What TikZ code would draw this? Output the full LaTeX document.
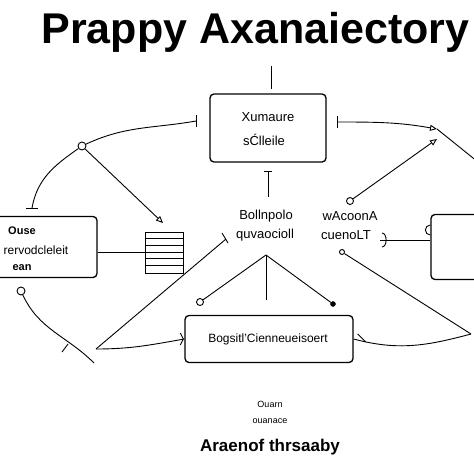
\documentclass[tikz,border=0pt]{standalone}
\usepackage{fontspec}
\setmainfont{Liberation Sans}
\usetikzlibrary{positioning,arrows.meta}
\begin{document}
\begin{tikzpicture}[x=1pt,y=-1pt,
kbox/.style={draw,line width=1.3pt,rounded corners=4pt,inner sep=0pt},
kwire/.style={line width=0.9pt},
kring/.style={draw,circle,line width=0.9pt,inner sep=0pt,minimum size=7pt,fill=white},
kdot/.style={draw,circle,fill,inner sep=0pt,minimum size=5pt},
ktip/.style={-{Triangle[open,length=7pt,width=6pt]}},
klbl/.style={font=\fontsize{13}{14}\selectfont}]
\pgfmathsetmacro{\kstripes}{6}
\useasboundingbox (0,0) rectangle (474,474);
% title
\node[anchor=west,font=\fontsize{43}{45}\selectfont\bfseries] (title) at (38,32) {Prappy Axanaiectory};
% boxes
\node[kbox,minimum width=116pt,minimum height=68pt] (top) at (268,128) {};
\node[klbl] (top1) at (268,117) {Xumaure};
\node[klbl] (top2) at (264,140) {sĆlleile};
\node[kbox,minimum width=104pt,minimum height=61pt] (lft) at (45,247) {};
\node[klbl,font=\fontsize{11}{12}\selectfont\bfseries] (lft1) at (22,231) {Ouse};
\node[klbl,font=\fontsize{12}{13}\selectfont] (lft2) at (36,250) {rervodcleleit};
\node[klbl,font=\fontsize{11}{12}\selectfont\bfseries] (lft3) at (22,268) {ean};
\node[kbox,minimum width=62pt,minimum height=65pt] (rgt) at (462,247) {};
\node[kbox,minimum width=168pt,minimum height=47pt] (bot) at (269,339) {};
\node[klbl,font=\fontsize{12}{13}\selectfont] (bot1) at (268,339) {Bogsitl'Cienneueisoert};
% stripes
\node[draw,line width=1pt,minimum width=38pt,minimum height=41pt,inner sep=0pt] (strp) at (164,252.5) {};
\foreach \k in {1,...,5}{\draw[line width=0.9pt](strp.north west)++(0,\k*41/\kstripes)--++(38,0);}
% middle labels
\node[klbl] (mid1) at (266,216) {Bollnpolo};
\node[klbl] (mid2) at (265,235) {quvaocioll};
\node[klbl] (mid3) at (350,216) {wAcoonA};
\node[klbl] (mid4) at (346,235) {cuenoLT};
% bottom labels
\node[font=\fontsize{9}{10}\selectfont] (cap1) at (270,404) {Ouarn};
\node[font=\fontsize{9}{10}\selectfont] (cap2) at (270,421) {ouanace};
\node[font=\fontsize{17}{18}\selectfont\bfseries] (cap3) at (270,447) {Araenof thrsaaby};
% points
\coordinate (tt) at (271,66);
\coordinate (tb) at (271,89);
\coordinate (tl) at (196,121);
\coordinate (tr) at (337,122);
\coordinate (tu) at (268,171);
\coordinate (td) at (268,197);
\node[kring,minimum size=8pt] (c1) at (82,146) {};
\coordinate (la) at (32,208);
\coordinate (lh) at (163,223);
\coordinate (rh) at (437,129);
\coordinate (rx) at (478,162);
\node[kring] (c2) at (350,201) {};
\coordinate (ro) at (380,240);
\coordinate (apex) at (266,255);
\node[kring] (c3) at (200,302) {};
\coordinate (av) at (266,300);
\node[kdot] (d1) at (333,304) {};
\node[kring,minimum size=5pt] (c4) at (342,252) {};
\coordinate (rl) at (471,334);
\node[kring,minimum size=8pt] (c5) at (21,291) {};
\coordinate (bl) at (94,363);
\coordinate (mv) at (96,349);
\coordinate (mu) at (226,239);
% connectors
\draw[kwire](tt)--(tb);
\draw[kwire](tu)--(td);
\draw[kwire](tl)to[out=190,in=25](c1);
\draw[kwire](c1)to[out=215,in=80](la);
\draw[kwire,ktip](c1)--(lh);
\draw[kwire,ktip](tr)to[out=0,in=170](rh);
\draw[kwire](rh)--(rx);
\draw[kwire,ktip](c2)--(437,139);
\draw[kwire](lft.east|-strp.west)--(strp.west);
\draw[kwire](ro)--(rgt.west|-ro);
\draw[kwire](apex)--(c3);
\draw[kwire](apex)--(av);
\draw[kwire](apex)--(d1);
\draw[kwire](c4)--(rl);
\draw[kwire](rl)to[out=195,in=-15](bot.east);
\draw[kwire](c5)to[out=-65,in=135](bl);
\draw[kwire](mv)--(mu);
\draw[kwire](mv)to[out=0,in=190](bot.west);
% small marks
\draw[kwire](tl)++(0,-6)--++(0,12);
\draw[kwire](tr)++(0,-6)--++(0,12);
\draw[kwire](tu)++(-4,0)--++(8,0);
\draw[kwire](la)++(-6,0)--++(12,0);
\draw[kwire](68,344)--++(-6,8);
\draw[kwire](mu)++(-4,-6)--++(6,10);
\draw[kwire](ro)++(2,-7)to[out=0,in=0]++(0,14);
\draw[kwire](rgt.west|-ro)++(0,-5)arc(90:270:5);
\draw[kwire](bot.west)++(-4,-6)--++(3,6)--++(-3,6);
\draw[kwire](bot.east)++(4,-5)--++(8,8);
\end{tikzpicture}
\end{document}
